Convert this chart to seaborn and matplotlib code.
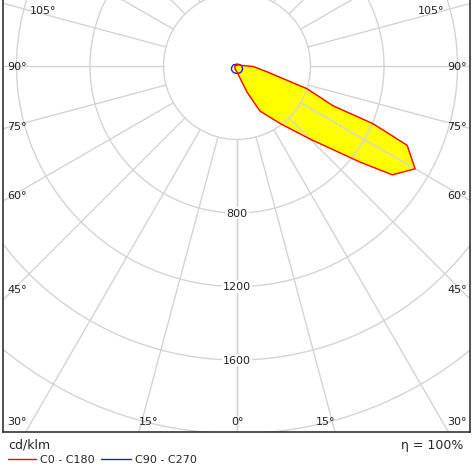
import numpy as np
import matplotlib
matplotlib.use("Agg")
import matplotlib.pyplot as plt
import seaborn as sns

sns.set_style("white")
plt.rcParams['font.family'] = ['DejaVu Sans']

# C0-C180 curve: gamma (deg, from nadir, positive = C0 side), intensity cd/klm
c0_gamma = [-180, -90, -30, 0, 21, 27, 37, 45, 52, 55, 60, 65, 67, 67.5, 72, 79, 88, 100, 180]
c0_int = [10, 12, 20, 33, 152, 275, 393, 562, 849, 1032, 1119, 1022, 805, 566, 401, 166, 90, 20, 10]
# C90-C270 curve
c90_gamma = [-180, -135, -90, -60, -30, 0, 30, 60, 90, 135, 180]
c90_int = [5, 12, 25, 35, 40, 40, 40, 35, 25, 12, 5]
rings = [400, 800, 1200, 1600, 2000, 2400, 2800]
ring_labels = [800, 1200, 1600]
angle_ticks = [0, 15, 30, 45, 60, 75, 90, 105]

def xy(g, r):
    g = np.radians(np.asarray(g, float)); r = np.asarray(r, float)
    return r*np.sin(g), -r*np.cos(g)

s = 400/73.5
cx, cy = 237, 67
x0, x1 = (3-cx)*s, (470-cx)*s
y0, y1 = -(433-cy)*s, cy*s

fig = plt.figure(figsize=(4.74, 4.77), dpi=100)
ax = fig.add_axes([3/474, 44/477, 467/474, 433/477])
ax.set_xlim(x0, x1); ax.set_ylim(y0, y1)
ax.set_xticks([]); ax.set_yticks([])
for sp in ax.spines.values():
    sp.set_color('#333333'); sp.set_linewidth(1.2)

gc = '#d4d4d4'
t = np.linspace(0, 2*np.pi, 400)
for r in rings:
    ax.plot(r*np.cos(t), r*np.sin(t), color=gc, lw=1, zorder=1)
for g in range(0, 181, 15):
    for sgn in (1, -1):
        gx, gy = xy([sgn*g, sgn*g], [400, 4000])
        ax.plot(gx, gy, color=gc, lw=1, zorder=1)

# curves
px, py = xy(c0_gamma, c0_int)
ax.fill(px, py, color='yellow', zorder=0.5)
ax.plot(np.append(px, px[0]), np.append(py, py[0]), color='red', lw=1, zorder=4)
gs = np.linspace(-180, 180, 200)
bx, by = xy(gs, np.interp(gs, c90_gamma, c90_int))
ax.plot(bx, by, color='#2020c0', lw=1, zorder=3)

for r in ring_labels:
    ax.text(0, -r, str(r), ha='center', va='center', fontsize=8, color='#222',
            bbox=dict(facecolor='white', edgecolor='none', pad=1), zorder=5)

mx, my = 10*s, 11*s
for g in angle_ticks:
    dx, dy = np.sin(np.radians(g)), -np.cos(np.radians(g))
    tx = (x1 - mx)/dx if dx > 0 else np.inf
    ty = (y0 + my)/dy if dy < 0 else ((y1 - my)/dy if dy > 0 else np.inf)
    tt = min(tx, ty)
    X, Y = dx*tt, dy*tt
    lab = f"{g}°"
    if g == 0:
        ax.text(0, Y, lab, ha='center', va='center', fontsize=8, color='#222')
        continue
    for sg in (1, -1):
        if tt == tx or g == 30:
            ax.text(sg*(x1 - 3*s), Y, lab, ha='right' if sg > 0 else 'left', va='center', fontsize=8, color='#222')
        else:
            ax.text(sg*X*0.93, Y, lab, ha='center', va='center', fontsize=8, color='#222')

fig.text(8/474, 1-445/477, 'cd/klm', fontsize=9, va='center')
fig.text(463/474, 1-445/477, 'η = 100%', fontsize=9, va='center', ha='right')
fig.add_artist(plt.Line2D([8/474, 36/474], [1-460/477]*2, color='red', lw=1))
fig.text(40/474, 1-460/477, 'C0 - C180', fontsize=8, va='center')
fig.add_artist(plt.Line2D([101/474, 131/474], [1-460/477]*2, color='#2020c0', lw=1))
fig.text(135/474, 1-460/477, 'C90 - C270', fontsize=8, va='center')

fig.savefig('out.png', dpi=100)
